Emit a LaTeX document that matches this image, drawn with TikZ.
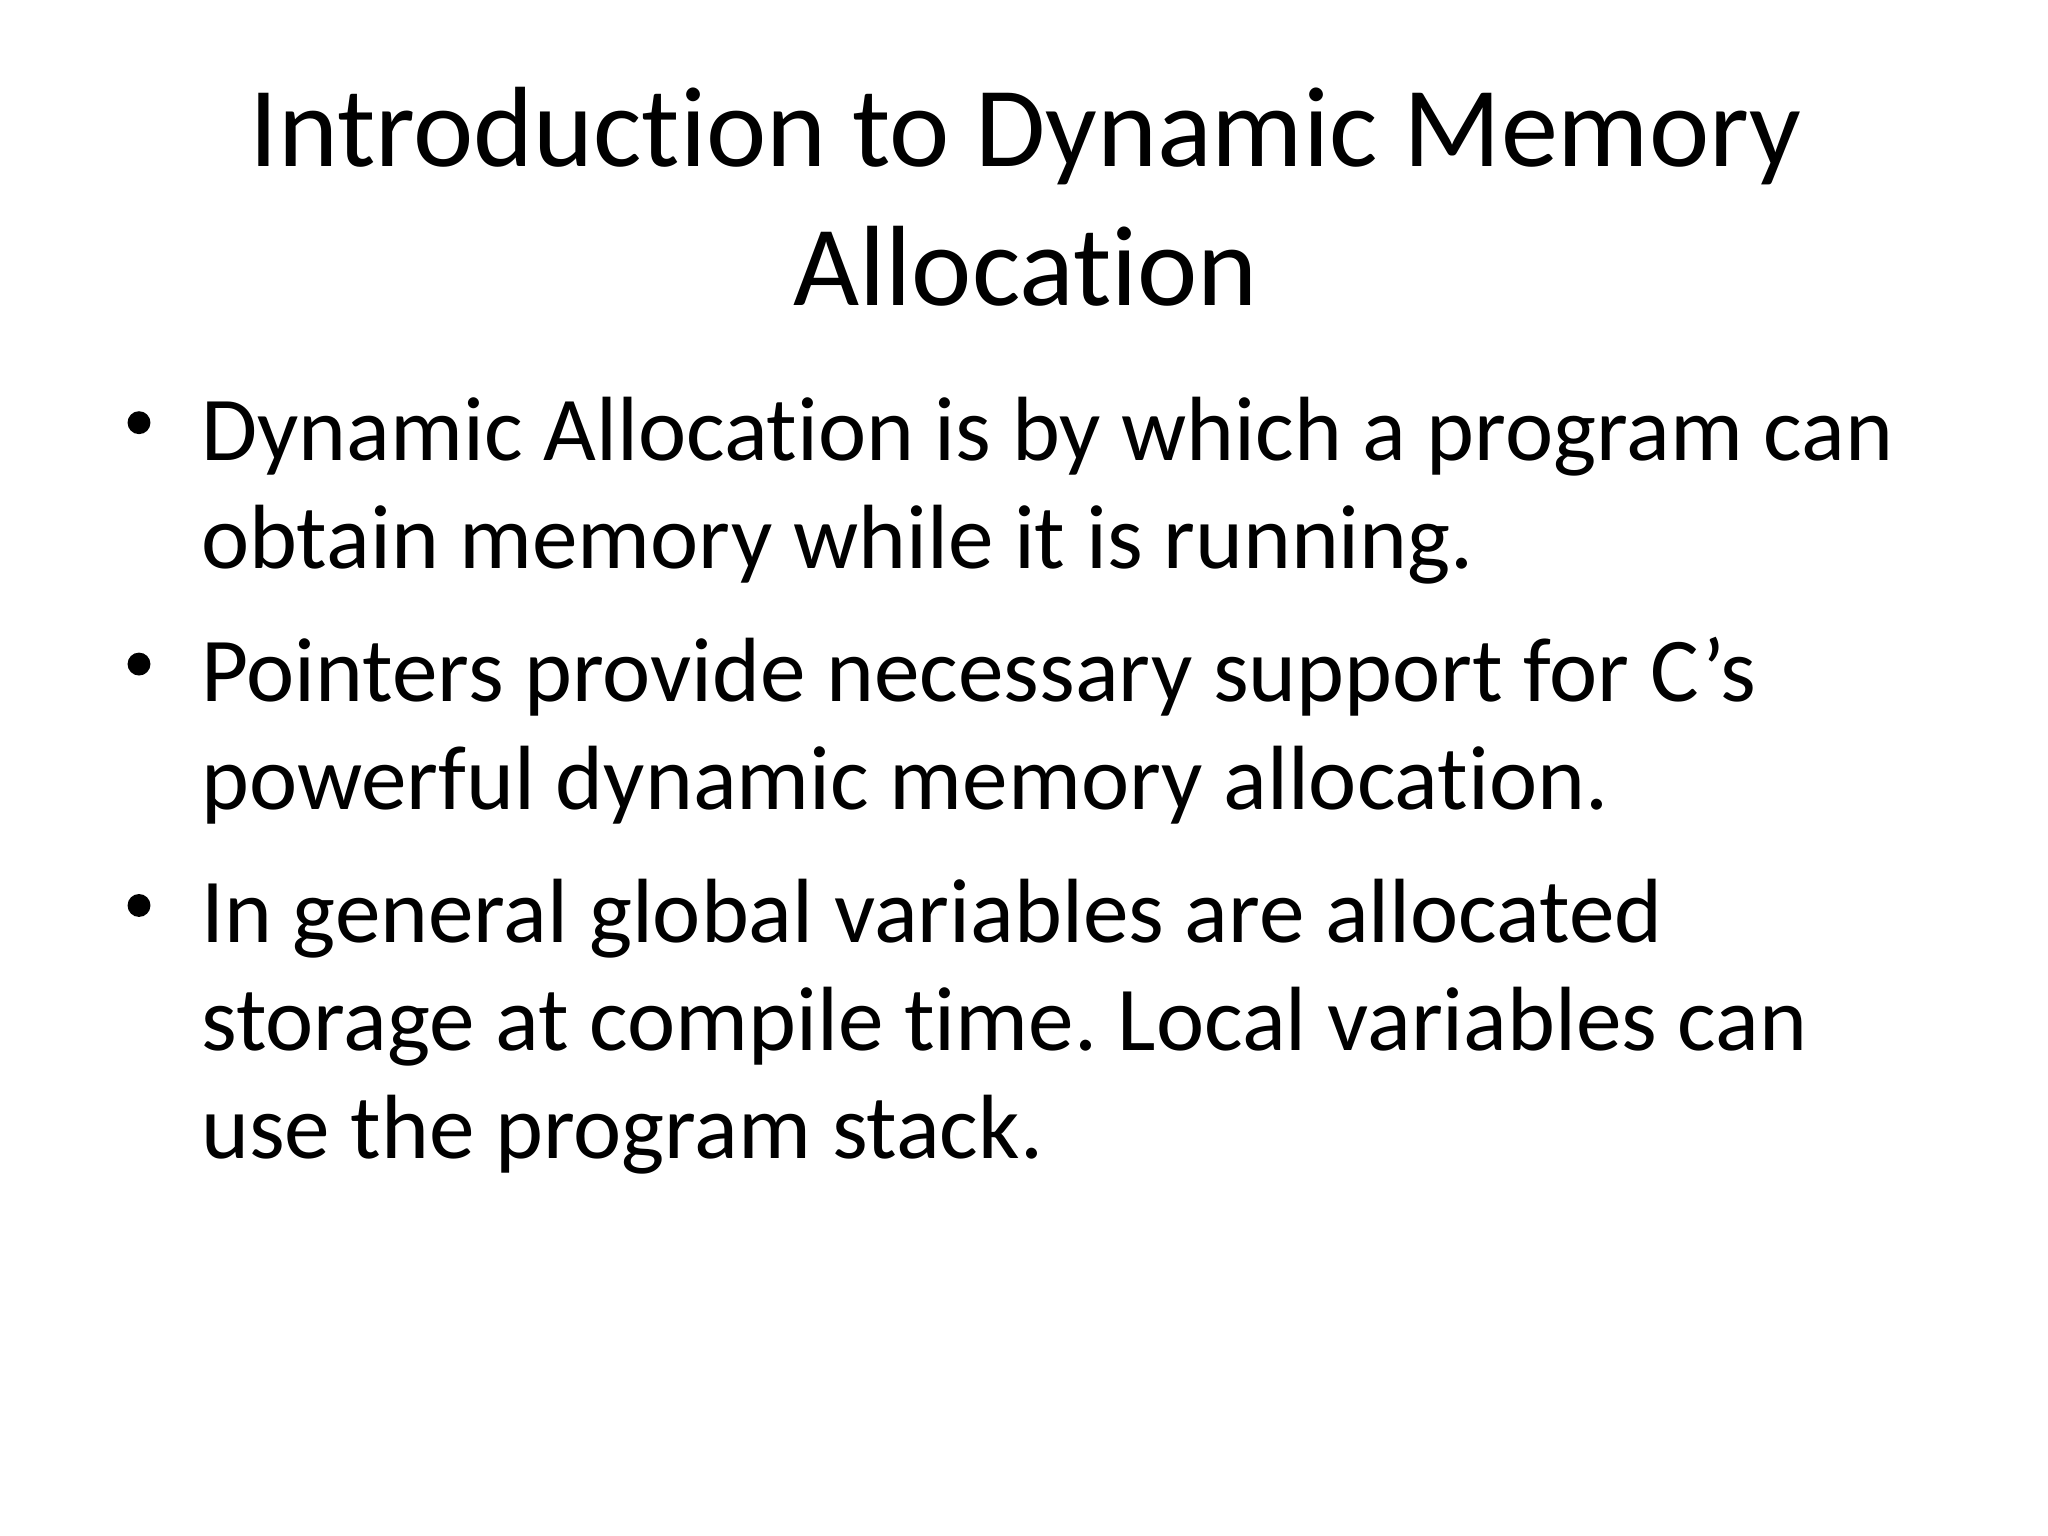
\documentclass[tikz,border=0pt]{standalone}
\usepackage{fontspec}
\setmainfont{Carlito}[Ligatures=NoCommon]
\usepackage{tikz}
\frenchspacing

\tikzset{
  titleline/.style={anchor=base,inner sep=0pt,font=\fontsize{40.3}{48}\selectfont},
  bodyline/.style={anchor=base west,inner sep=0pt,font=\fontsize{32.2}{38}\selectfont},
  bulletdot/.style={fill=black}
}

\begin{document}
\begin{tikzpicture}[scale=1.0]
  \useasboundingbox[fill=white] (0,0) rectangle (25.4,-19.05);
  \node[titleline] (title1) at (12.72,-2.071) {Introduction to Dynamic Memory};
  \node[titleline] (title2) at (12.72,-3.783) {Allocation};
  \foreach \y/\n in {-5.242/1,-8.236/2,-11.230/3}
    \fill[bulletdot] (1.724,\y) circle (0.142) coordinate (dot\n);
  \node[bodyline] (b1a) at (2.49,-5.705) {Dynamic Allocation is by which a program can};
  \node[bodyline] (b1b) at (2.49,-7.045) {obtain memory while it is running.};
  \node[bodyline] (b2a) at (2.49,-8.699) {Pointers provide necessary support for C’s};
  \node[bodyline] (b2b) at (2.49,-10.038) {powerful dynamic memory allocation.};
  \node[bodyline] (b3a) at (2.49,-11.693) {In general global variables are allocated};
  \node[bodyline] (b3b) at (2.49,-13.032) {storage at compile time. Local variables can};
  \node[bodyline] (b3c) at (2.49,-14.372) {use the program stack.};
\end{tikzpicture}
\end{document}
